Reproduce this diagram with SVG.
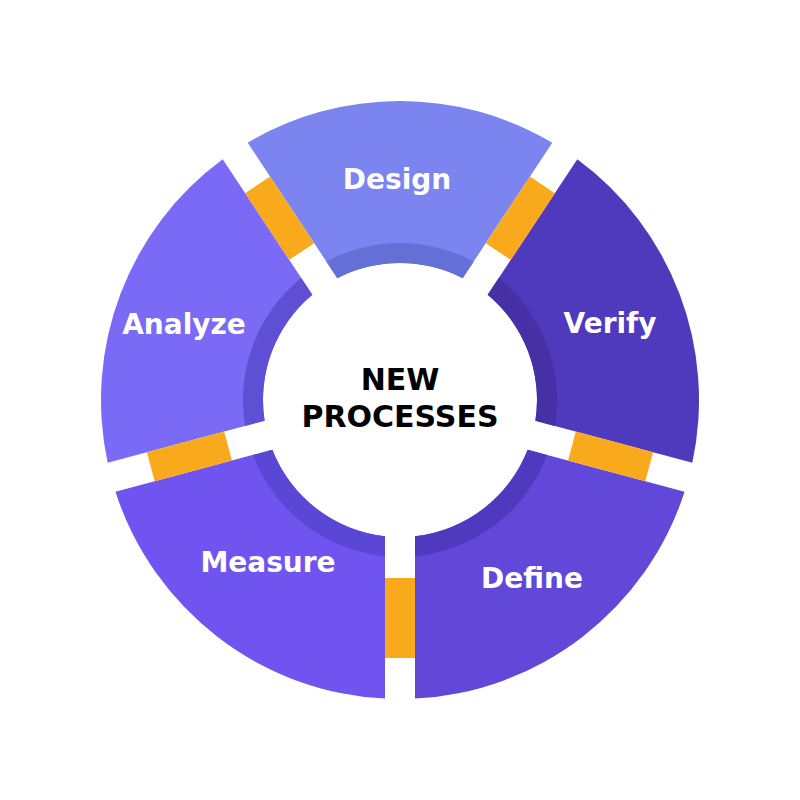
<svg xmlns="http://www.w3.org/2000/svg" xmlns:xlink="http://www.w3.org/1999/xlink" width="800" height="800" viewBox="0 0 800 800">
<style>
.lbl{font-family:"DejaVu Sans","Liberation Sans",sans-serif;font-weight:bold;font-size:28px;fill:#ffffff;text-anchor:middle}
.ctr{font-family:"DejaVu Sans","Liberation Sans",sans-serif;font-weight:bold;font-size:30px;fill:#000000;text-anchor:middle}
.gap{fill:#f9aa1c}
</style>
<defs>
<rect id="orange" x="385" y="578" width="30" height="80"/>
</defs>
<rect width="800" height="800" fill="#ffffff"/>
<g id="design">
<path fill="#7b84ef" d="M247.7 142.7 A299 299 0 0 1 552.3 142.7 L462.65 278.16 A137 137 0 0 0 337.35 278.16 Z"/>
<path fill="#6470d6" d="M326.27 261.4 A157 157 0 0 1 473.73 261.4 L462.65 278.16 A137 137 0 0 0 337.35 278.16 Z"/>
<text class="lbl" x="397" y="189">Design</text>
</g>
<g id="verify">
<path fill="#4f39bc" d="M577.33 159.26 A299 299 0 0 1 692.33 462.8 L535.42 420.76 A137 137 0 0 0 487.67 294.72 Z"/>
<path fill="#4530a6" d="M498.77 277.96 A157 157 0 0 1 554.84 425.96 L535.42 420.76 A137 137 0 0 0 487.67 294.72 Z"/>
<text class="lbl" x="610" y="333">Verify</text>
</g>
<g id="define">
<path fill="#6148d9" d="M684.57 491.78 A299 299 0 0 1 415 698.62 L415 536.18 A137 137 0 0 0 527.66 449.74 Z"/>
<path fill="#4f39be" d="M547.07 454.94 A157 157 0 0 1 415 556.28 L415 536.18 A137 137 0 0 0 527.66 449.74 Z"/>
<text class="lbl" x="532" y="588">Define</text>
</g>
<g id="measure">
<path fill="#7054ef" d="M385 698.62 A299 299 0 0 1 115.43 491.78 L272.34 449.74 A137 137 0 0 0 385 536.18 Z"/>
<path fill="#5b47d6" d="M385 556.28 A157 157 0 0 1 252.93 454.94 L272.34 449.74 A137 137 0 0 0 385 536.18 Z"/>
<text class="lbl" x="268" y="572">Measure</text>
</g>
<g id="analyze">
<path fill="#7a6af5" d="M107.67 462.8 A299 299 0 0 1 222.67 159.26 L312.33 294.72 A137 137 0 0 0 264.58 420.76 Z"/>
<path fill="#5e4fd5" d="M245.16 425.96 A157 157 0 0 1 301.23 277.96 L312.33 294.72 A137 137 0 0 0 264.58 420.76 Z"/>
<text class="lbl" x="184" y="334">Analyze</text>
</g>
<g id="connectors">
<use xlink:href="#orange" class="gap"/>
<use xlink:href="#orange" class="gap" transform="rotate(75 400 400)"/>
<use xlink:href="#orange" class="gap" transform="rotate(146.5 400 400)"/>
<use xlink:href="#orange" class="gap" transform="rotate(213.5 400 400)"/>
<use xlink:href="#orange" class="gap" transform="rotate(-75 400 400)"/>
</g>
<g id="center">
<text class="ctr" x="400" y="390">NEW</text>
<text class="ctr" x="400" y="427">PROCESSES</text>
</g>
</svg>
